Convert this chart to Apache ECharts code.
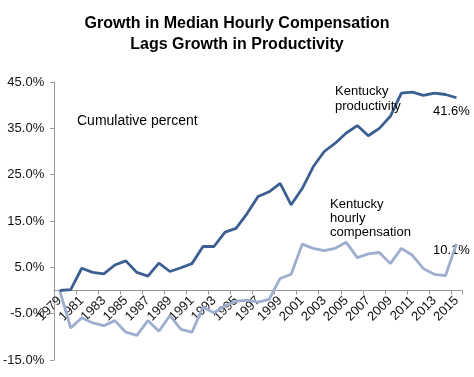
<!doctype html>
<html lang="en">
<head>
    <meta charset="UTF-8">
    <title>Kentucky productivity vs compensation</title>
    <style>
        html, body { margin: 0; padding: 0; background: #fff; }
        #chart { width: 474px; height: 377px; }
    </style>
</head>
<body>
    <div id="chart"></div>

    <script src="https://cdn.jsdelivr.net/npm/echarts@6/dist/echarts.min.js"></script>
    <script>
        // years 1979-2015
        var years = ["1979","1980","1981","1982","1983","1984","1985","1986","1987","1988",
            "1989","1990","1991","1992","1993","1994","1995","1996","1997","1998",
            "1999","2000","2001","2002","2003","2004","2005","2006","2007","2008",
            "2009","2010","2011","2012","2013","2014","2015"];

        // cumulative percent change
        var productivity = [0, 0.2, 4.8, 3.9, 3.6, 5.5, 6.4, 3.9, 3.1, 5.9,
            4.1, 4.9, 5.8, 9.5, 9.5, 12.6, 13.4, 16.6, 20.3, 21.3,
            23.1, 18.5, 22.0, 26.7, 30.0, 31.8, 34.0, 35.6, 33.4, 35.0,
            37.6, 42.6, 42.8, 42.1, 42.6, 42.3, 41.6];

        var compensation = [0, -8.1, -5.9, -7.0, -7.6, -6.5, -9.0, -9.7, -6.5, -8.8,
            -5.4, -8.4, -9.0, -3.6, -4.8, -3.3, -2.3, -2.1, -2.5, -1.9,
            2.6, 3.5, 10.0, 9.1, 8.6, 9.1, 10.4, 7.1, 7.9, 8.2,
            5.8, 9.1, 7.6, 4.7, 3.5, 3.2, 10.1];

        var yMin = -15, yMax = 45, yStep = 10;

        var font = "'Liberation Sans', Arial, sans-serif";

        var gridTop = 82, gridBottom = 17, H = 377;
        var plotH = H - gridTop - gridBottom;
        // lift the category axis up to the zero line
        var zeroOffset = -(0 - yMin) / (yMax - yMin) * plotH;

        var chart = echarts.init(document.getElementById('chart'));

        var option = {
            animation: false,
            title: {
                text: 'Growth in Median Hourly Compensation\nLags Growth in Productivity',
                left: 'center',
                top: 8,
                textStyle: {
                    fontFamily: font,
                    fontSize: 16,
                    fontWeight: 'bold',
                    color: '#000',
                    lineHeight: 21
                }
            },
            grid: {
                left: 53,
                right: 12,
                top: gridTop,
                bottom: gridBottom,
                containLabel: false
            },
            xAxis: {
                type: 'category',
                data: years,
                boundaryGap: true,
                offset: zeroOffset,
                axisLine: { onZero: false, lineStyle: { color: '#999', width: 1 } },
                axisTick: { show: true, length: 4, lineStyle: { color: '#999' } },
                axisLabel: {
                    interval: 1,
                    rotate: 45,
                    margin: 8,
                    fontFamily: font,
                    fontSize: 13,
                    color: '#111'
                },
                splitLine: { show: false }
            },
            yAxis: {
                type: 'value',
                min: yMin,
                max: yMax,
                interval: yStep,
                axisLine: { show: true, lineStyle: { color: '#999', width: 1 } },
                axisTick: { show: true, length: 4, lineStyle: { color: '#999' } },
                axisLabel: {
                    margin: 10,
                    fontFamily: font,
                    fontSize: 13,
                    color: '#111',
                    formatter: function (v) { return v.toFixed(1) + '%'; }
                },
                splitLine: { show: false }
            },
            series: [
                {
                    name: 'Kentucky productivity',
                    type: 'line',
                    data: productivity,
                    symbol: 'none',
                    lineStyle: { color: '#3A5F90', width: 2.8 },
                    itemStyle: { color: '#3A5F90' },
                    z: 3
                },
                {
                    name: 'Kentucky hourly compensation',
                    type: 'line',
                    data: compensation,
                    symbol: 'none',
                    lineStyle: { color: '#9DAECE', width: 2.8 },
                    itemStyle: { color: '#9DAECE' },
                    z: 2
                }
            ],
            graphic: [
                {
                    type: 'text', left: 77, top: 114,
                    style: { text: 'Cumulative percent', font: '14px ' + font, fill: '#000' }
                },
                {
                    type: 'text', left: 335, top: 84,
                    style: { text: 'Kentucky\nproductivity', font: '13px ' + font, fill: '#000', align: 'center', lineHeight: 15 },
                    z: 10
                },
                {
                    type: 'text', left: 433, top: 105,
                    style: { text: '41.6%', font: '13px ' + font, fill: '#000' }
                },
                {
                    type: 'text', left: 330, top: 197,
                    style: { text: 'Kentucky\nhourly\ncompensation', font: '13px ' + font, fill: '#000', align: 'center', lineHeight: 14 }
                },
                {
                    type: 'text', left: 433, top: 244,
                    style: { text: '10.1%', font: '13px ' + font, fill: '#000' },
                    z: 1
                }
            ]
        };

        chart.setOption(option);
    </script>
</body>
</html>
